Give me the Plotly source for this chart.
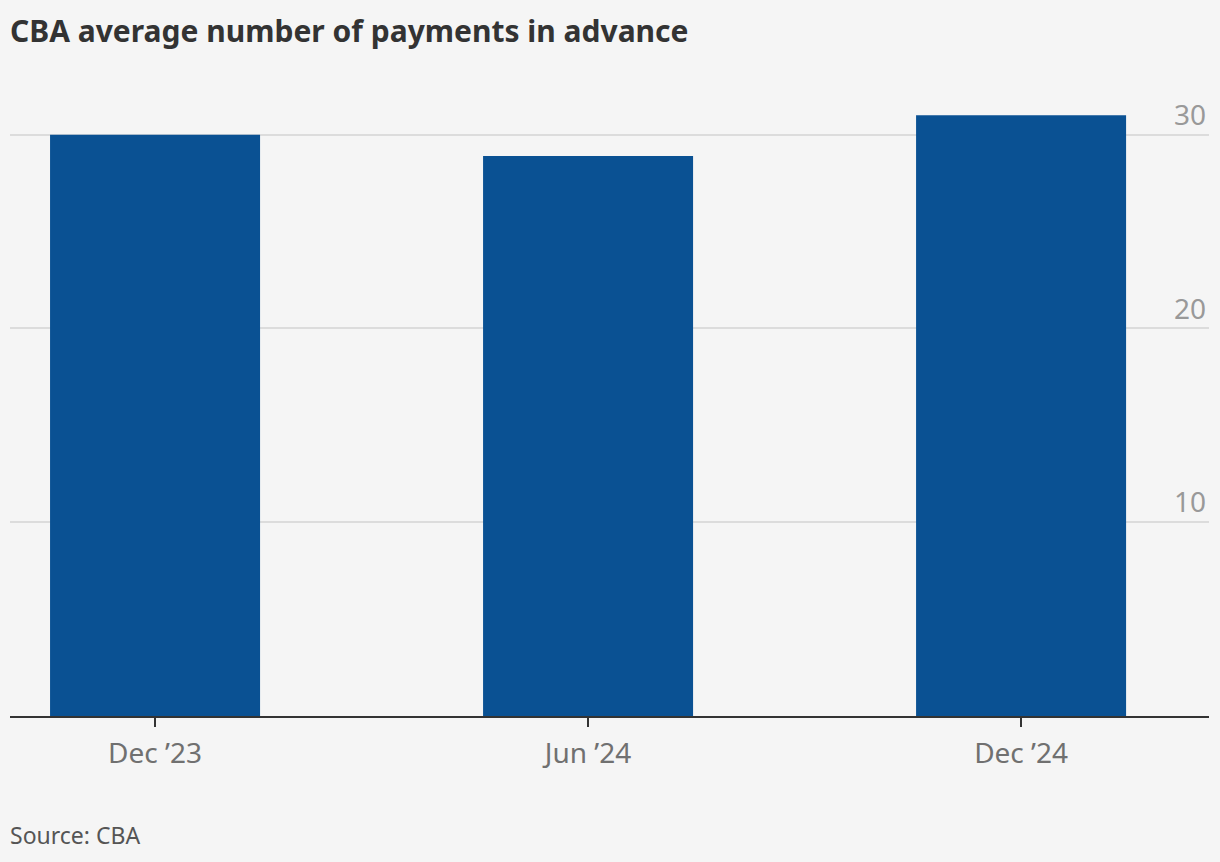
import plotly.graph_objects as go

periods = ["Dec ’23", "Jun ’24", "Dec ’24"]
payments_in_advance = [30.0, 28.9, 31.0]
y_ticks = [10, 20, 30]

fig = go.Figure()

fig.add_trace(go.Bar(x=periods, y=payments_in_advance, marker_color="#0a5193",
                     marker_line_width=0, hoverinfo="x+y"))

fig.update_layout(
    width=1220, height=862,
    paper_bgcolor="#f5f5f5", plot_bgcolor="#f5f5f5",
    margin=dict(l=10, r=11, t=80, b=146),
    font=dict(family="Noto Sans", color="#333333"),
    bargap=0.515,
    showlegend=False,
    title=dict(text="<b>CBA average number of payments in advance</b>",
               x=10 / 1220, xanchor="left", xref="container",
               y=1 - 31 / 862, yanchor="middle", yref="container",
               font=dict(size=30, color="#333333")),
)

fig.update_xaxes(type="category", range=[-0.335, 2.434],
                 showline=True, linecolor="#333333", linewidth=2,
                 ticks="outside", ticklen=9, tickwidth=2, tickcolor="#333333",
                 ticklabelstandoff=2,
                 tickfont=dict(size=28, color="#707070"), showgrid=False)

fig.update_yaxes(side="right", range=[0, 32.82], tickvals=y_ticks,
                 ticklabelposition="inside top",
                 tickfont=dict(size=28, color="#999999"),
                 showgrid=True, gridcolor="#dcdcdc", gridwidth=2,
                 zeroline=False, showline=False, ticks="")

fig.add_annotation(text="Source: CBA", x=0, xref="paper", xanchor="left", xshift=-2,
                   y=(716 - 835) / 636, yref="paper", yanchor="middle",
                   showarrow=False, font=dict(size=23, color="#555555"))

# drop the page margin so the figure sits flush with the window
fig.write_html("out.html", config={"displayModeBar": False},
               post_script="document.body.style.margin='0';"
                           "document.body.style.background='#f5f5f5';")
